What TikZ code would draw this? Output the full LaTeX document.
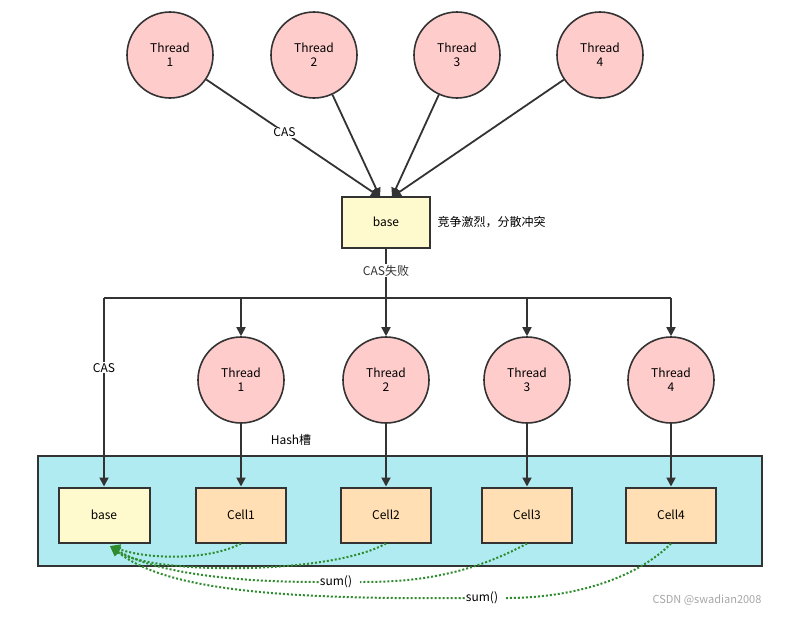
\documentclass[tikz,border=0pt]{standalone}
\usepackage{fontspec}
\setmainfont{Noto Sans CJK SC}
\usetikzlibrary{arrows.meta}
\definecolor{thr}{HTML}{FFCCCC}
\definecolor{basey}{HTML}{FFFACD}
\definecolor{cellc}{HTML}{FFDFB3}
\definecolor{slot}{HTML}{B1EBF2}
\definecolor{ln}{HTML}{333333}
\definecolor{grn}{HTML}{2E8B2E}
\begin{document}
\begin{tikzpicture}[x=1pt,y=-1pt,
  thread/.style={circle,draw=ln,line width=1.6pt,fill=thr,minimum size=86pt,inner sep=0pt,align=center,font=\fontsize{12}{14}\selectfont},
  box/.style={draw=ln,line width=2pt,minimum width=91pt,minimum height=55pt,inner sep=0pt,font=\fontsize{12}{14}\selectfont},
  arr/.style={draw=ln,line width=1.8pt,-{Triangle[length=9pt,width=9pt]}},
  lab/.style={fill=white,inner sep=1pt,font=\fontsize{12}{14}\selectfont},
  sumc/.style={draw=grn,line width=2pt,dotted},
]
\useasboundingbox (0,0) rectangle (803,616);
\foreach \i/\x in {1/170,2/314,3/457,4/600}{
  \node[thread] (t\i) at (\x,55) {Thread\\\i};
}
\node[box,fill=basey,minimum width=88pt,minimum height=51pt] (b0) at (386,222) {base};
\node[anchor=west,font=\fontsize{12}{14}\selectfont] (note) at (434,222) {竞争激烈，分散冲突};
\coordinate (inL) at (380,197);
\coordinate (inR) at (392,197);
\draw[arr] (t1) -- node[lab,pos=0.45] (cas1) {CAS} (inL);
\draw[arr] (t2) -- (inL);
\draw[arr] (t3) -- (inR);
\draw[arr] (t4) -- (inR);

\node[draw=ln,line width=2pt,fill=slot,minimum width=724pt,minimum height=110pt,inner sep=0pt] (slotbox) at (400,511) {};
\node[box,fill=basey] (b1) at (104,515) {base};
\foreach \i/\x in {1/241,2/386,3/527,4/671}{
  \node[box,fill=cellc,minimum width=90pt] (c\i) at (\x,515) {Cell\i};
  \node[thread] (s\i) at (\x,380) {Thread\\\i};
}
\coordinate (hL) at (104,298);
\coordinate (hR) at (671,298);
\coordinate (hm) at (386,298);
\draw[ln,line width=1.8pt] (b0.south) -- node[lab,pos=0.45] (casf) {CAS失败} (hm);
\draw[ln,line width=1.8pt] (hL) -- (hR);
\draw[arr] (hL) -- node[lab,pos=0.37] (cas2) {CAS} (b1.north);
\foreach \i/\x in {1/241,2/386,3/527,4/671}{
  \draw[arr] (\x,298) -- (s\i.north);
  \draw[arr] (s\i) -- (c\i);
}
\node[font=\fontsize{12}{14}\selectfont] (hash) at (291,440) {Hash槽};
\coordinate (sumend) at (110,546);
\draw[sumc,-{Triangle[length=10pt,width=10pt]}] (c1.south) .. controls (210,560) and (150,560) .. (sumend);
\draw[sumc,-{Triangle[length=10pt,width=10pt]}] (c2.south) .. controls (330,575) and (150,575) .. (sumend);
\draw[sumc] (c3.south) .. controls (460,580) and (400,582) .. node[pos=0.75,lab,fill=none] (sum1) {} (360,582);
\node[font=\fontsize{12}{14}\selectfont,fill=white,inner sep=1pt] (sumt1) at (336,582) {sum()};
\draw[sumc,-{Triangle[length=10pt,width=10pt]}] (sumt1.west) .. controls (220,582) and (150,570) .. (sumend);
\draw[sumc] (c4.south) .. controls (640,575) and (580,598) .. (506,598);
\node[font=\fontsize{12}{14}\selectfont,fill=white,inner sep=1pt] (sumt2) at (482,598) {sum()};
\draw[sumc,-{Triangle[length=10pt,width=10pt]}] (sumt2.west) .. controls (250,600) and (160,585) .. (sumend);
\node[font=\fontsize{11}{13}\selectfont,text=gray!70] (wm) at (707,600) {CSDN @swadian2008};
\end{tikzpicture}
\end{document}
